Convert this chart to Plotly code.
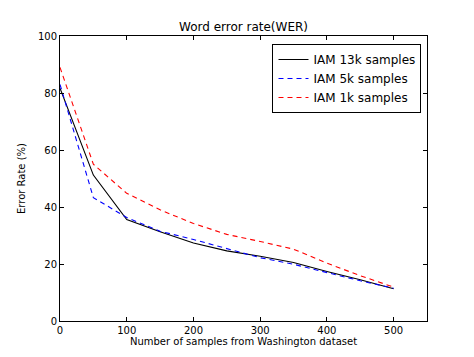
import plotly.graph_objects as go

x = [0, 50, 100, 150, 200, 250, 300, 350, 400, 450, 500]
iam13k = [81.7, 51.2, 35.6, 31.3, 27.4, 24.6, 22.7, 20.5, 17.4, 14.5, 11.3]
iam5k = [83.0, 43.3, 36.3, 31.5, 28.6, 25.3, 22.2, 19.9, 17.0, 14.1, 11.5]
iam1k = [89.0, 55.0, 44.8, 39.0, 34.2, 30.4, 27.9, 25.2, 20.3, 15.9, 11.9]

font = "DejaVu Sans, Verdana, sans-serif"
fig = go.Figure()
fig.add_trace(go.Scatter(x=x, y=iam13k, mode="lines", name="IAM 13k samples",
                         line=dict(color="black", width=1.1)))
fig.add_trace(go.Scatter(x=x, y=iam5k, mode="lines", name="IAM 5k samples",
                         line=dict(color="#0000ff", width=1.1, dash="5px,4px")))
fig.add_trace(go.Scatter(x=x, y=iam1k, mode="lines", name="IAM 1k samples",
                         line=dict(color="#ff0000", width=1.1, dash="5px,4px")))

axis_common = dict(showline=True, linecolor="black", linewidth=1, mirror="allticks",
                   ticks="inside", ticklen=4, tickcolor="black", showgrid=False,
                   zeroline=False, tickfont=dict(size=10, color="black", family=font))
fig.update_xaxes(range=[0, 550], tickvals=[0, 100, 200, 300, 400, 500],
                 title=dict(text="Number of samples from Washington dataset",
                            font=dict(size=10, family=font, color="black"), standoff=2),
                 **axis_common)
fig.update_yaxes(range=[0, 100], tickvals=[0, 20, 40, 60, 80, 100],
                 title=dict(text="Error Rate (%)",
                            font=dict(size=10, family=font, color="black"), standoff=10),
                 **axis_common)
fig.update_layout(
    width=474, height=357,
    margin=dict(l=60, r=47, t=36, b=36),
    paper_bgcolor="white", plot_bgcolor="white",
    title=dict(text="Word error rate(WER)", x=0.5, xanchor="center", xref="paper",
               y=1 - 27 / 357, yanchor="middle",
               font=dict(size=12, family=font, color="black")),
    legend=dict(x=0.985, y=0.972, xanchor="right", yanchor="top",
                bordercolor="black", borderwidth=1, bgcolor="white",
                font=dict(size=12, family=font, color="black"),
                tracegroupgap=0, itemwidth=30),
    showlegend=True,
)
fig.write_html("out.html")
